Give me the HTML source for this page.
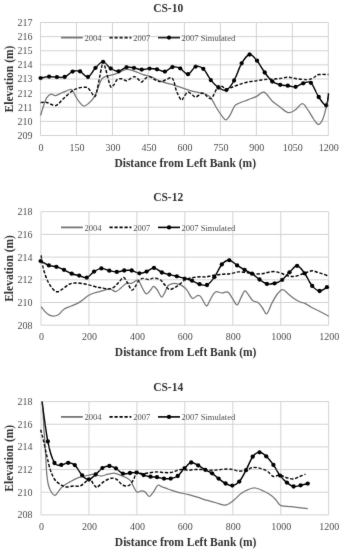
<!DOCTYPE html>
<html><head><meta charset="utf-8"><title>Cross sections</title>
<style>
html,body{margin:0;padding:0;background:#fff;}
body{width:342px;height:550px;overflow:hidden;}
svg{display:block;font-family:"Liberation Serif", "Times New Roman", serif;}
</style></head><body>
<svg width="342" height="550" viewBox="0 0 342 550">
<defs><filter id="soft" filterUnits="userSpaceOnUse" x="0" y="0" width="342" height="550"><feConvolveMatrix order="3" kernelMatrix="0.01 0.06 0.01 0.06 0.72 0.06 0.01 0.06 0.01" edgeMode="duplicate"/></filter></defs>
<rect width="342" height="550" fill="#ffffff"/>
<g filter="url(#soft)">
<defs><clipPath id="c0"><rect x="37.50" y="22.50" width="293.80" height="113.00"/></clipPath></defs>
<path d="M40.50,22.50H328.30 M40.50,36.62H328.30 M40.50,50.75H328.30 M40.50,64.88H328.30 M40.50,79.00H328.30 M40.50,93.12H328.30 M40.50,107.25H328.30 M40.50,121.38H328.30 M40.50,135.50H328.30 M40.50,22.50V135.50 M76.47,22.50V135.50 M112.45,22.50V135.50 M148.43,22.50V135.50 M184.40,22.50V135.50 M220.38,22.50V135.50 M256.35,22.50V135.50 M292.33,22.50V135.50 M328.30,22.50V135.50" stroke="#d2d2d2" stroke-width="1" fill="none"/>
<text x="32.6" y="25.90" text-anchor="end" font-size="10" fill="#4d4d4d">217</text>
<text x="32.6" y="40.02" text-anchor="end" font-size="10" fill="#4d4d4d">216</text>
<text x="32.6" y="54.15" text-anchor="end" font-size="10" fill="#4d4d4d">215</text>
<text x="32.6" y="68.28" text-anchor="end" font-size="10" fill="#4d4d4d">214</text>
<text x="32.6" y="82.40" text-anchor="end" font-size="10" fill="#4d4d4d">213</text>
<text x="32.6" y="96.53" text-anchor="end" font-size="10" fill="#4d4d4d">212</text>
<text x="32.6" y="110.65" text-anchor="end" font-size="10" fill="#4d4d4d">211</text>
<text x="32.6" y="124.78" text-anchor="end" font-size="10" fill="#4d4d4d">210</text>
<text x="32.6" y="138.90" text-anchor="end" font-size="10" fill="#4d4d4d">209</text>
<text x="41.00" y="150.70" text-anchor="middle" font-size="10" fill="#4d4d4d">0</text>
<text x="76.97" y="150.70" text-anchor="middle" font-size="10" fill="#4d4d4d">150</text>
<text x="112.95" y="150.70" text-anchor="middle" font-size="10" fill="#4d4d4d">300</text>
<text x="148.93" y="150.70" text-anchor="middle" font-size="10" fill="#4d4d4d">450</text>
<text x="184.90" y="150.70" text-anchor="middle" font-size="10" fill="#4d4d4d">600</text>
<text x="220.88" y="150.70" text-anchor="middle" font-size="10" fill="#4d4d4d">750</text>
<text x="256.85" y="150.70" text-anchor="middle" font-size="10" fill="#4d4d4d">900</text>
<text x="292.83" y="150.70" text-anchor="middle" font-size="10" fill="#4d4d4d">1050</text>
<text x="328.80" y="150.70" text-anchor="middle" font-size="10" fill="#4d4d4d">1200</text>
<text x="185.20" y="166.50" text-anchor="middle" font-size="11.5" font-weight="bold" fill="#333333">Distance from Left Bank (m)</text>
<text transform="translate(12.9,79.00) rotate(-90)" text-anchor="middle" font-size="11.5" font-weight="bold" fill="#333333">Elevation (m)</text>
<text x="168.2" y="12.00" text-anchor="middle" font-size="11.5" font-weight="bold" fill="#333333">CS-10</text>
<path d="M61,37.60H82.8" stroke="#737373" stroke-width="1.75"/>
<text x="84.6" y="40.80" font-size="8.5" fill="#4d4d4d">2004</text>
<path d="M109.5,37.60H131.4" stroke="#000" stroke-width="1.6" stroke-dasharray="3.2 1.8"/>
<text x="133.3" y="40.80" font-size="8.5" fill="#4d4d4d">2007</text>
<path d="M158,37.60H180" stroke="#000" stroke-width="1.6"/>
<circle cx="169" cy="37.60" r="2.15" fill="#000"/>
<text x="181.6" y="40.80" font-size="8.5" fill="#4d4d4d">2007 Simulated</text>
<g clip-path="url(#c0)" fill="none" stroke-linejoin="round">
<path d="M40.60,115.50 C41.05,114.00 42.27,109.47 43.30,106.50 C44.33,103.53 45.48,99.75 46.80,97.70 C48.12,95.65 49.75,94.55 51.20,94.20 C52.65,93.85 53.60,95.88 55.50,95.60 C57.40,95.32 60.10,93.52 62.60,92.50 C65.10,91.48 68.75,89.65 70.50,89.50 C72.25,89.35 71.93,89.93 73.10,91.60 C74.27,93.27 75.75,97.10 77.50,99.50 C79.25,101.90 81.73,105.38 83.60,106.00 C85.47,106.62 87.07,104.52 88.70,103.20 C90.33,101.88 92.03,100.12 93.40,98.10 C94.77,96.08 95.73,93.83 96.90,91.10 C98.07,88.37 99.33,83.95 100.40,81.70 C101.47,79.45 102.13,78.57 103.30,77.60 C104.47,76.63 105.75,76.38 107.40,75.90 C109.05,75.42 111.25,75.28 113.20,74.70 C115.15,74.12 116.88,73.30 119.10,72.40 C121.32,71.50 123.95,69.52 126.50,69.30 C129.05,69.08 131.63,70.22 134.40,71.10 C137.17,71.98 140.50,73.73 143.10,74.60 C145.70,75.47 147.10,75.20 150.00,76.30 C152.90,77.40 157.00,79.88 160.50,81.20 C164.00,82.52 167.48,83.12 171.00,84.20 C174.52,85.28 178.08,86.53 181.60,87.70 C185.12,88.87 188.60,90.32 192.10,91.20 C195.60,92.08 200.12,92.37 202.60,93.00 C205.08,93.63 205.60,94.20 207.00,95.00 C208.40,95.80 209.45,95.72 211.00,97.80 C212.55,99.88 214.55,104.57 216.30,107.50 C218.05,110.43 219.90,113.35 221.50,115.40 C223.10,117.45 224.43,119.93 225.90,119.80 C227.37,119.67 228.83,116.93 230.30,114.60 C231.77,112.27 233.23,107.70 234.70,105.80 C236.17,103.90 236.90,104.20 239.10,103.20 C241.30,102.20 244.98,100.93 247.90,99.80 C250.82,98.67 253.92,97.67 256.60,96.40 C259.28,95.13 261.38,91.40 264.00,92.20 C266.62,93.00 269.75,98.82 272.30,101.20 C274.85,103.58 276.67,104.60 279.30,106.50 C281.93,108.40 285.47,112.02 288.10,112.60 C290.73,113.18 292.70,111.48 295.10,110.00 C297.50,108.52 300.23,103.50 302.50,103.70 C304.77,103.90 306.80,108.57 308.70,111.20 C310.60,113.83 312.28,117.30 313.90,119.50 C315.52,121.70 316.90,124.50 318.40,124.40 C319.90,124.30 321.57,121.88 322.90,118.90 C324.23,115.92 325.50,110.15 326.40,106.50 C327.30,102.85 327.98,98.58 328.30,97.00" stroke="#737373" stroke-width="1.25"/>
<path d="M40.60,102.50 C41.63,102.50 44.32,101.98 46.80,102.50 C49.28,103.02 52.87,106.10 55.50,105.60 C58.13,105.10 59.97,101.83 62.60,99.50 C65.23,97.17 68.67,93.50 71.30,91.60 C73.93,89.70 76.05,88.83 78.40,88.10 C80.75,87.37 83.68,87.10 85.40,87.20 C87.12,87.30 87.47,87.47 88.70,88.70 C89.93,89.93 91.73,93.32 92.80,94.60 C93.87,95.88 94.42,96.98 95.10,96.40 C95.78,95.82 96.22,93.93 96.90,91.10 C97.58,88.27 98.43,83.30 99.20,79.40 C99.97,75.50 100.85,70.60 101.50,67.70 C102.15,64.80 102.42,61.80 103.10,62.00 C103.78,62.20 104.78,66.20 105.60,68.90 C106.42,71.60 107.12,75.18 108.00,78.20 C108.88,81.22 109.93,85.92 110.90,87.00 C111.87,88.08 112.73,85.97 113.80,84.70 C114.87,83.43 116.03,80.38 117.30,79.40 C118.57,78.42 119.87,78.58 121.40,78.80 C122.93,79.02 125.07,80.68 126.50,80.70 C127.93,80.72 128.68,79.57 130.00,78.90 C131.32,78.23 133.08,76.70 134.40,76.70 C135.72,76.70 136.73,78.00 137.90,78.90 C139.07,79.80 140.23,82.10 141.40,82.10 C142.57,82.10 143.58,79.80 144.90,78.90 C146.22,78.00 147.57,76.55 149.30,76.70 C151.03,76.85 153.43,78.98 155.30,79.80 C157.17,80.62 158.75,81.60 160.50,81.60 C162.25,81.60 164.05,80.45 165.80,79.80 C167.55,79.15 169.68,77.55 171.00,77.70 C172.32,77.85 172.82,78.58 173.70,80.70 C174.58,82.82 175.05,87.18 176.30,90.40 C177.55,93.62 179.88,98.98 181.20,100.00 C182.52,101.02 183.12,97.82 184.20,96.50 C185.28,95.18 186.38,92.40 187.70,92.10 C189.02,91.80 190.72,93.88 192.10,94.70 C193.48,95.52 194.53,97.20 196.00,97.00 C197.47,96.80 199.50,94.03 200.90,93.50 C202.30,92.97 203.30,93.25 204.40,93.80 C205.50,94.35 206.40,96.00 207.50,96.80 C208.60,97.60 209.83,99.18 211.00,98.60 C212.17,98.02 213.33,95.35 214.50,93.30 C215.67,91.25 216.83,87.47 218.00,86.30 C219.17,85.13 220.03,85.85 221.50,86.30 C222.97,86.75 225.05,88.85 226.80,89.00 C228.55,89.15 229.95,87.93 232.00,87.20 C234.05,86.47 236.45,85.48 239.10,84.60 C241.75,83.72 244.98,82.55 247.90,81.90 C250.82,81.25 253.92,81.08 256.60,80.70 C259.28,80.32 261.35,79.87 264.00,79.60 C266.65,79.33 269.83,79.28 272.50,79.10 C275.17,78.92 277.40,78.82 280.00,78.50 C282.60,78.18 285.30,77.15 288.10,77.20 C290.90,77.25 293.58,78.40 296.80,78.80 C300.02,79.20 304.77,79.67 307.40,79.60 C310.03,79.53 311.17,79.00 312.60,78.40 C314.03,77.80 314.93,76.65 316.00,76.00 C317.07,75.35 316.92,74.75 319.00,74.50 C321.08,74.25 326.92,74.50 328.50,74.50" stroke="#000" stroke-width="1.45" stroke-dasharray="3.3 1.7"/>
<path d="M40.60,78.10 C42.02,77.87 46.38,76.85 49.10,76.70 C51.82,76.55 54.30,77.15 56.90,77.20 C59.50,77.25 62.08,77.93 64.70,77.00 C67.32,76.07 70.03,72.53 72.60,71.60 C75.17,70.67 77.53,70.50 80.10,71.40 C82.67,72.30 85.43,77.60 88.00,77.00 C90.57,76.40 92.98,70.32 95.50,67.80 C98.02,65.28 100.55,61.78 103.10,61.90 C105.65,62.02 108.22,66.93 110.80,68.50 C113.38,70.07 115.98,71.52 118.60,71.30 C121.22,71.08 123.93,67.77 126.50,67.20 C129.07,66.63 131.47,67.50 134.00,67.90 C136.53,68.30 139.12,69.48 141.70,69.60 C144.28,69.72 146.95,68.65 149.50,68.60 C152.05,68.55 154.43,68.80 157.00,69.30 C159.57,69.80 162.33,71.98 164.90,71.60 C167.47,71.22 169.85,67.55 172.40,67.00 C174.95,66.45 177.60,67.10 180.20,68.30 C182.80,69.50 185.43,74.48 188.00,74.20 C190.57,73.92 193.05,67.50 195.60,66.60 C198.15,65.70 200.77,66.55 203.30,68.80 C205.83,71.05 208.27,76.98 210.80,80.10 C213.33,83.22 215.90,85.83 218.50,87.50 C221.10,89.17 223.80,91.27 226.40,90.10 C229.00,88.93 231.57,84.95 234.10,80.50 C236.63,76.05 239.02,67.73 241.60,63.40 C244.18,59.07 247.03,54.95 249.60,54.50 C252.17,54.05 254.48,57.70 257.00,60.70 C259.52,63.70 262.15,69.03 264.70,72.50 C267.25,75.97 269.72,79.45 272.30,81.50 C274.88,83.55 277.62,84.10 280.20,84.80 C282.78,85.50 285.23,85.37 287.80,85.70 C290.37,86.03 293.03,87.20 295.60,86.80 C298.17,86.40 300.65,83.97 303.20,83.30 C305.75,82.63 308.32,80.52 310.90,82.80 C313.48,85.08 316.15,93.23 318.70,97.00 C321.25,100.77 324.55,106.07 326.20,105.40 C327.85,104.73 328.20,95.07 328.60,93.00" stroke="#000" stroke-width="1.45"/>
</g>
<g fill="#000">
<circle cx="40.60" cy="78.10" r="2.15"/>
<circle cx="49.10" cy="76.70" r="2.15"/>
<circle cx="56.90" cy="77.20" r="2.15"/>
<circle cx="64.70" cy="77.00" r="2.15"/>
<circle cx="72.60" cy="71.60" r="2.15"/>
<circle cx="80.10" cy="71.40" r="2.15"/>
<circle cx="88.00" cy="77.00" r="2.15"/>
<circle cx="95.50" cy="67.80" r="2.15"/>
<circle cx="103.10" cy="61.90" r="2.15"/>
<circle cx="110.80" cy="68.50" r="2.15"/>
<circle cx="118.60" cy="71.30" r="2.15"/>
<circle cx="126.50" cy="67.20" r="2.15"/>
<circle cx="134.00" cy="67.90" r="2.15"/>
<circle cx="141.70" cy="69.60" r="2.15"/>
<circle cx="149.50" cy="68.60" r="2.15"/>
<circle cx="157.00" cy="69.30" r="2.15"/>
<circle cx="164.90" cy="71.60" r="2.15"/>
<circle cx="172.40" cy="67.00" r="2.15"/>
<circle cx="180.20" cy="68.30" r="2.15"/>
<circle cx="188.00" cy="74.20" r="2.15"/>
<circle cx="195.60" cy="66.60" r="2.15"/>
<circle cx="203.30" cy="68.80" r="2.15"/>
<circle cx="210.80" cy="80.10" r="2.15"/>
<circle cx="218.50" cy="87.50" r="2.15"/>
<circle cx="226.40" cy="90.10" r="2.15"/>
<circle cx="234.10" cy="80.50" r="2.15"/>
<circle cx="241.60" cy="63.40" r="2.15"/>
<circle cx="249.60" cy="54.50" r="2.15"/>
<circle cx="257.00" cy="60.70" r="2.15"/>
<circle cx="264.70" cy="72.50" r="2.15"/>
<circle cx="272.30" cy="81.50" r="2.15"/>
<circle cx="280.20" cy="84.80" r="2.15"/>
<circle cx="287.80" cy="85.70" r="2.15"/>
<circle cx="295.60" cy="86.80" r="2.15"/>
<circle cx="303.20" cy="83.30" r="2.15"/>
<circle cx="310.90" cy="82.80" r="2.15"/>
<circle cx="318.70" cy="97.00" r="2.15"/>
<circle cx="326.20" cy="105.40" r="2.15"/>
</g>
<defs><clipPath id="c1"><rect x="38.00" y="211.70" width="293.70" height="113.50"/></clipPath></defs>
<path d="M41.00,211.70H328.70 M41.00,234.40H328.70 M41.00,257.10H328.70 M41.00,279.80H328.70 M41.00,302.50H328.70 M41.00,325.20H328.70 M41.00,211.70V325.20 M88.95,211.70V325.20 M136.90,211.70V325.20 M184.85,211.70V325.20 M232.80,211.70V325.20 M280.75,211.70V325.20 M328.70,211.70V325.20" stroke="#d2d2d2" stroke-width="1" fill="none"/>
<text x="32.6" y="215.10" text-anchor="end" font-size="10" fill="#4d4d4d">218</text>
<text x="32.6" y="237.80" text-anchor="end" font-size="10" fill="#4d4d4d">216</text>
<text x="32.6" y="260.50" text-anchor="end" font-size="10" fill="#4d4d4d">214</text>
<text x="32.6" y="283.20" text-anchor="end" font-size="10" fill="#4d4d4d">212</text>
<text x="32.6" y="305.90" text-anchor="end" font-size="10" fill="#4d4d4d">210</text>
<text x="32.6" y="328.60" text-anchor="end" font-size="10" fill="#4d4d4d">208</text>
<text x="41.50" y="340.40" text-anchor="middle" font-size="10" fill="#4d4d4d">0</text>
<text x="89.45" y="340.40" text-anchor="middle" font-size="10" fill="#4d4d4d">200</text>
<text x="137.40" y="340.40" text-anchor="middle" font-size="10" fill="#4d4d4d">400</text>
<text x="185.35" y="340.40" text-anchor="middle" font-size="10" fill="#4d4d4d">600</text>
<text x="233.30" y="340.40" text-anchor="middle" font-size="10" fill="#4d4d4d">800</text>
<text x="281.25" y="340.40" text-anchor="middle" font-size="10" fill="#4d4d4d">1000</text>
<text x="329.20" y="340.40" text-anchor="middle" font-size="10" fill="#4d4d4d">1200</text>
<text x="185.65" y="356.20" text-anchor="middle" font-size="11.5" font-weight="bold" fill="#333333">Distance from Left Bank (m)</text>
<text transform="translate(12.9,268.45) rotate(-90)" text-anchor="middle" font-size="11.5" font-weight="bold" fill="#333333">Elevation (m)</text>
<text x="168.2" y="201.20" text-anchor="middle" font-size="11.5" font-weight="bold" fill="#333333">CS-12</text>
<path d="M61,227.40H82.8" stroke="#737373" stroke-width="1.75"/>
<text x="84.6" y="230.60" font-size="8.5" fill="#4d4d4d">2004</text>
<path d="M109.5,227.40H131.4" stroke="#000" stroke-width="1.6" stroke-dasharray="3.2 1.8"/>
<text x="133.3" y="230.60" font-size="8.5" fill="#4d4d4d">2007</text>
<path d="M158,227.40H180" stroke="#000" stroke-width="1.6"/>
<circle cx="169" cy="227.40" r="2.15" fill="#000"/>
<text x="181.6" y="230.60" font-size="8.5" fill="#4d4d4d">2007 Simulated</text>
<g clip-path="url(#c1)" fill="none" stroke-linejoin="round">
<path d="M41.20,306.70 C41.83,307.52 43.63,310.20 45.00,311.60 C46.37,313.00 47.78,314.37 49.40,315.10 C51.02,315.83 53.10,316.15 54.70,316.00 C56.30,315.85 57.40,315.38 59.00,314.20 C60.60,313.02 62.25,310.27 64.30,308.90 C66.35,307.53 68.67,307.17 71.30,306.00 C73.93,304.83 77.32,303.60 80.10,301.90 C82.88,300.20 85.68,297.28 88.00,295.80 C90.32,294.32 91.53,293.85 94.00,293.00 C96.47,292.15 100.17,291.37 102.80,290.70 C105.43,290.03 107.62,288.85 109.80,289.00 C111.98,289.15 114.00,291.82 115.90,291.60 C117.80,291.38 119.43,289.08 121.20,287.70 C122.97,286.32 124.75,284.03 126.50,283.30 C128.25,282.57 129.80,283.82 131.70,283.30 C133.60,282.78 136.15,279.47 137.90,280.20 C139.65,280.93 140.82,285.43 142.20,287.70 C143.58,289.97 144.73,293.50 146.20,293.80 C147.67,294.10 149.80,290.73 151.00,289.50 C152.20,288.27 152.40,286.40 153.40,286.40 C154.40,286.40 155.63,287.73 157.00,289.50 C158.37,291.27 160.27,296.57 161.60,297.00 C162.93,297.43 163.97,293.93 165.00,292.10 C166.03,290.27 166.72,287.38 167.80,286.00 C168.88,284.62 170.08,284.20 171.50,283.80 C172.92,283.40 174.62,283.33 176.30,283.60 C177.98,283.87 179.85,284.35 181.60,285.40 C183.35,286.45 185.02,287.77 186.80,289.90 C188.58,292.03 190.53,297.25 192.30,298.20 C194.07,299.15 195.97,295.83 197.40,295.60 C198.83,295.37 199.42,295.10 200.90,296.80 C202.38,298.50 204.82,305.17 206.30,305.80 C207.78,306.43 208.62,302.53 209.80,300.60 C210.98,298.67 212.28,295.70 213.40,294.20 C214.52,292.70 215.10,291.80 216.50,291.60 C217.90,291.40 219.90,292.92 221.80,293.00 C223.70,293.08 226.15,291.23 227.90,292.10 C229.65,292.97 230.77,296.07 232.30,298.20 C233.83,300.33 235.63,305.03 237.10,304.90 C238.57,304.77 239.80,299.73 241.10,297.40 C242.40,295.07 243.58,291.20 244.90,290.90 C246.22,290.60 247.68,293.97 249.00,295.60 C250.32,297.23 251.28,299.55 252.80,300.70 C254.32,301.85 256.48,301.28 258.10,302.50 C259.72,303.72 261.05,306.13 262.50,308.00 C263.95,309.87 265.20,314.57 266.80,313.70 C268.40,312.83 270.33,306.08 272.10,302.80 C273.87,299.52 275.65,296.20 277.40,294.00 C279.15,291.80 280.78,289.62 282.60,289.60 C284.42,289.58 286.47,292.47 288.30,293.90 C290.13,295.33 291.70,296.88 293.60,298.20 C295.50,299.52 297.80,300.93 299.70,301.80 C301.60,302.67 303.08,302.50 305.00,303.40 C306.92,304.30 308.87,305.93 311.20,307.20 C313.53,308.47 316.08,309.52 319.00,311.00 C321.92,312.48 327.08,315.25 328.70,316.10" stroke="#737373" stroke-width="1.25"/>
<path d="M41.20,255.40 C41.40,256.93 41.77,261.47 42.40,264.60 C43.03,267.73 43.98,271.22 45.00,274.20 C46.02,277.18 47.18,280.03 48.50,282.50 C49.82,284.97 51.43,287.45 52.90,289.00 C54.37,290.55 55.68,291.80 57.30,291.80 C58.92,291.80 60.70,290.22 62.60,289.00 C64.50,287.78 66.67,285.50 68.70,284.50 C70.73,283.50 72.32,283.13 74.80,283.00 C77.28,282.87 80.97,283.30 83.60,283.70 C86.23,284.10 88.20,284.78 90.60,285.40 C93.00,286.02 96.27,287.02 98.00,287.40 C99.73,287.78 99.33,287.43 101.00,287.70 C102.67,287.97 105.95,289.00 108.00,289.00 C110.05,289.00 111.53,288.78 113.30,287.70 C115.07,286.62 116.90,284.20 118.60,282.50 C120.30,280.80 122.05,277.50 123.50,277.50 C124.95,277.50 125.93,280.42 127.30,282.50 C128.67,284.58 130.38,289.28 131.70,290.00 C133.02,290.72 134.03,288.35 135.20,286.80 C136.37,285.25 137.38,282.10 138.70,280.70 C140.02,279.30 141.48,278.60 143.10,278.40 C144.72,278.20 146.58,279.55 148.40,279.50 C150.22,279.45 151.98,278.05 154.00,278.10 C156.02,278.15 158.68,278.63 160.50,279.80 C162.32,280.97 163.43,283.48 164.90,285.10 C166.37,286.72 167.68,289.07 169.30,289.50 C170.92,289.93 172.85,288.58 174.60,287.70 C176.35,286.82 178.05,285.52 179.80,284.20 C181.55,282.88 183.05,280.88 185.10,279.80 C187.15,278.72 189.47,278.22 192.10,277.70 C194.73,277.18 198.58,276.82 200.90,276.70 C203.22,276.58 203.98,277.22 206.00,277.00 C208.02,276.78 210.08,275.87 213.00,275.40 C215.92,274.93 220.57,274.48 223.50,274.20 C226.43,273.92 228.10,274.08 230.60,273.70 C233.10,273.32 235.87,272.10 238.50,271.90 C241.13,271.70 243.92,272.15 246.40,272.50 C248.88,272.85 250.80,273.80 253.40,274.00 C256.00,274.20 259.68,273.95 262.00,273.70 C264.32,273.45 265.25,272.85 267.30,272.50 C269.35,272.15 271.97,271.47 274.30,271.60 C276.63,271.73 278.97,272.57 281.30,273.30 C283.63,274.03 285.97,275.50 288.30,276.00 C290.63,276.50 292.53,276.80 295.30,276.30 C298.07,275.80 302.12,273.92 304.90,273.00 C307.68,272.08 309.87,270.90 312.00,270.80 C314.13,270.70 315.88,271.87 317.70,272.40 C319.52,272.93 321.07,273.37 322.90,274.00 C324.73,274.63 327.73,275.83 328.70,276.20" stroke="#000" stroke-width="1.45" stroke-dasharray="3.3 1.7"/>
<path d="M40.60,261.10 C41.98,261.82 46.27,264.45 48.90,265.40 C51.53,266.35 53.88,266.07 56.40,266.80 C58.92,267.53 61.45,268.65 64.00,269.80 C66.55,270.95 69.17,272.73 71.70,273.70 C74.23,274.67 76.68,274.93 79.20,275.60 C81.72,276.27 84.32,278.37 86.80,277.70 C89.28,277.03 91.67,273.15 94.10,271.60 C96.53,270.05 98.87,268.55 101.40,268.40 C103.93,268.25 106.73,270.12 109.30,270.70 C111.87,271.28 114.32,271.93 116.80,271.90 C119.28,271.87 121.72,270.73 124.20,270.50 C126.68,270.27 129.18,270.03 131.70,270.50 C134.22,270.97 136.82,273.12 139.30,273.30 C141.78,273.48 144.15,272.50 146.60,271.60 C149.05,270.70 151.45,267.75 154.00,267.90 C156.55,268.05 159.35,271.38 161.90,272.50 C164.45,273.62 166.82,273.97 169.30,274.60 C171.78,275.23 174.25,275.63 176.80,276.30 C179.35,276.97 182.05,277.87 184.60,278.60 C187.15,279.33 189.60,279.77 192.10,280.70 C194.60,281.63 197.12,283.48 199.60,284.20 C202.08,284.92 204.53,286.17 207.00,285.00 C209.47,283.83 211.93,280.63 214.40,277.20 C216.87,273.77 219.32,267.23 221.80,264.40 C224.28,261.57 226.75,260.03 229.30,260.20 C231.85,260.37 234.55,263.80 237.10,265.40 C239.65,267.00 242.12,268.42 244.60,269.80 C247.08,271.18 249.52,272.08 252.00,273.70 C254.48,275.32 257.02,277.80 259.50,279.50 C261.98,281.20 264.38,283.27 266.90,283.90 C269.42,284.53 272.05,283.98 274.60,283.30 C277.15,282.62 279.72,281.63 282.20,279.80 C284.68,277.97 287.02,274.63 289.50,272.30 C291.98,269.97 294.58,265.63 297.10,265.80 C299.62,265.97 302.08,269.95 304.60,273.30 C307.12,276.65 309.70,282.95 312.20,285.90 C314.70,288.85 317.13,290.78 319.60,291.00 C322.07,291.22 325.77,287.83 327.00,287.20" stroke="#000" stroke-width="1.45"/>
</g>
<g fill="#000">
<circle cx="40.60" cy="261.10" r="2.15"/>
<circle cx="48.90" cy="265.40" r="2.15"/>
<circle cx="56.40" cy="266.80" r="2.15"/>
<circle cx="64.00" cy="269.80" r="2.15"/>
<circle cx="71.70" cy="273.70" r="2.15"/>
<circle cx="79.20" cy="275.60" r="2.15"/>
<circle cx="86.80" cy="277.70" r="2.15"/>
<circle cx="94.10" cy="271.60" r="2.15"/>
<circle cx="101.40" cy="268.40" r="2.15"/>
<circle cx="109.30" cy="270.70" r="2.15"/>
<circle cx="116.80" cy="271.90" r="2.15"/>
<circle cx="124.20" cy="270.50" r="2.15"/>
<circle cx="131.70" cy="270.50" r="2.15"/>
<circle cx="139.30" cy="273.30" r="2.15"/>
<circle cx="146.60" cy="271.60" r="2.15"/>
<circle cx="154.00" cy="267.90" r="2.15"/>
<circle cx="161.90" cy="272.50" r="2.15"/>
<circle cx="169.30" cy="274.60" r="2.15"/>
<circle cx="176.80" cy="276.30" r="2.15"/>
<circle cx="184.60" cy="278.60" r="2.15"/>
<circle cx="192.10" cy="280.70" r="2.15"/>
<circle cx="199.60" cy="284.20" r="2.15"/>
<circle cx="207.00" cy="285.00" r="2.15"/>
<circle cx="214.40" cy="277.20" r="2.15"/>
<circle cx="221.80" cy="264.40" r="2.15"/>
<circle cx="229.30" cy="260.20" r="2.15"/>
<circle cx="237.10" cy="265.40" r="2.15"/>
<circle cx="244.60" cy="269.80" r="2.15"/>
<circle cx="252.00" cy="273.70" r="2.15"/>
<circle cx="259.50" cy="279.50" r="2.15"/>
<circle cx="266.90" cy="283.90" r="2.15"/>
<circle cx="274.60" cy="283.30" r="2.15"/>
<circle cx="282.20" cy="279.80" r="2.15"/>
<circle cx="289.50" cy="272.30" r="2.15"/>
<circle cx="297.10" cy="265.80" r="2.15"/>
<circle cx="304.60" cy="273.30" r="2.15"/>
<circle cx="312.20" cy="285.90" r="2.15"/>
<circle cx="319.60" cy="291.00" r="2.15"/>
<circle cx="327.00" cy="287.20" r="2.15"/>
</g>
<defs><clipPath id="c2"><rect x="38.00" y="401.60" width="293.70" height="113.30"/></clipPath></defs>
<path d="M41.00,401.60H328.70 M41.00,424.26H328.70 M41.00,446.92H328.70 M41.00,469.58H328.70 M41.00,492.24H328.70 M41.00,514.90H328.70 M41.00,401.60V514.90 M88.95,401.60V514.90 M136.90,401.60V514.90 M184.85,401.60V514.90 M232.80,401.60V514.90 M280.75,401.60V514.90 M328.70,401.60V514.90" stroke="#d2d2d2" stroke-width="1" fill="none"/>
<text x="32.6" y="405.00" text-anchor="end" font-size="10" fill="#4d4d4d">218</text>
<text x="32.6" y="427.66" text-anchor="end" font-size="10" fill="#4d4d4d">216</text>
<text x="32.6" y="450.32" text-anchor="end" font-size="10" fill="#4d4d4d">214</text>
<text x="32.6" y="472.98" text-anchor="end" font-size="10" fill="#4d4d4d">212</text>
<text x="32.6" y="495.64" text-anchor="end" font-size="10" fill="#4d4d4d">210</text>
<text x="32.6" y="518.30" text-anchor="end" font-size="10" fill="#4d4d4d">208</text>
<text x="41.50" y="530.10" text-anchor="middle" font-size="10" fill="#4d4d4d">0</text>
<text x="89.45" y="530.10" text-anchor="middle" font-size="10" fill="#4d4d4d">200</text>
<text x="137.40" y="530.10" text-anchor="middle" font-size="10" fill="#4d4d4d">400</text>
<text x="185.35" y="530.10" text-anchor="middle" font-size="10" fill="#4d4d4d">600</text>
<text x="233.30" y="530.10" text-anchor="middle" font-size="10" fill="#4d4d4d">800</text>
<text x="281.25" y="530.10" text-anchor="middle" font-size="10" fill="#4d4d4d">1000</text>
<text x="329.20" y="530.10" text-anchor="middle" font-size="10" fill="#4d4d4d">1200</text>
<text x="185.65" y="545.90" text-anchor="middle" font-size="11.5" font-weight="bold" fill="#333333">Distance from Left Bank (m)</text>
<text transform="translate(12.9,458.25) rotate(-90)" text-anchor="middle" font-size="11.5" font-weight="bold" fill="#333333">Elevation (m)</text>
<text x="168.2" y="391.10" text-anchor="middle" font-size="11.5" font-weight="bold" fill="#333333">CS-14</text>
<path d="M61,416.90H82.8" stroke="#737373" stroke-width="1.75"/>
<text x="84.6" y="420.10" font-size="8.5" fill="#4d4d4d">2004</text>
<path d="M109.5,416.90H131.4" stroke="#000" stroke-width="1.6" stroke-dasharray="3.2 1.8"/>
<text x="133.3" y="420.10" font-size="8.5" fill="#4d4d4d">2007</text>
<path d="M158,416.90H180" stroke="#000" stroke-width="1.6"/>
<circle cx="169" cy="416.90" r="2.15" fill="#000"/>
<text x="181.6" y="420.10" font-size="8.5" fill="#4d4d4d">2007 Simulated</text>
<g clip-path="url(#c2)" fill="none" stroke-linejoin="round">
<path d="M41.20,385.00 C41.43,388.33 42.13,397.50 42.60,405.00 C43.07,412.50 43.50,421.83 44.00,430.00 C44.50,438.17 45.17,447.00 45.60,454.00 C46.03,461.00 46.17,467.00 46.60,472.00 C47.03,477.00 47.47,480.75 48.20,484.00 C48.93,487.25 49.90,489.62 51.00,491.50 C52.10,493.38 53.60,495.25 54.80,495.30 C56.00,495.35 56.90,493.27 58.20,491.80 C59.50,490.33 60.70,488.12 62.60,486.50 C64.50,484.88 66.97,483.57 69.60,482.10 C72.23,480.63 75.18,478.87 78.40,477.70 C81.62,476.53 86.30,475.68 88.90,475.10 C91.50,474.52 91.98,474.05 94.00,474.20 C96.02,474.35 98.67,476.00 101.00,476.00 C103.33,476.00 105.67,474.65 108.00,474.20 C110.33,473.75 112.65,473.00 115.00,473.30 C117.35,473.60 120.05,475.18 122.10,476.00 C124.15,476.82 125.85,477.33 127.30,478.20 C128.75,479.07 129.77,479.82 130.80,481.20 C131.83,482.58 132.47,484.68 133.50,486.50 C134.53,488.32 135.68,491.37 137.00,492.10 C138.32,492.83 140.08,490.95 141.40,490.90 C142.72,490.85 143.58,490.87 144.90,491.80 C146.22,492.73 147.87,496.50 149.30,496.50 C150.73,496.50 152.07,493.67 153.50,491.80 C154.93,489.93 156.43,486.10 157.90,485.30 C159.37,484.50 160.40,486.30 162.30,487.00 C164.20,487.70 166.67,488.62 169.30,489.50 C171.93,490.38 174.85,491.45 178.10,492.30 C181.35,493.15 185.57,493.78 188.80,494.60 C192.03,495.42 194.58,496.27 197.50,497.20 C200.42,498.13 203.37,499.32 206.30,500.20 C209.23,501.08 212.47,501.77 215.10,502.50 C217.73,503.23 220.35,504.17 222.10,504.60 C223.85,505.03 224.13,505.45 225.60,505.10 C227.07,504.75 229.15,503.67 230.90,502.50 C232.65,501.33 234.40,499.60 236.10,498.10 C237.80,496.60 239.10,494.92 241.10,493.50 C243.10,492.08 245.75,490.52 248.10,489.60 C250.45,488.68 252.65,487.77 255.20,488.00 C257.75,488.23 260.67,489.72 263.40,491.00 C266.13,492.28 269.45,494.13 271.60,495.70 C273.75,497.27 274.73,498.75 276.30,500.40 C277.87,502.05 278.47,504.55 281.00,505.60 C283.53,506.65 287.03,506.20 291.50,506.70 C295.97,507.20 305.08,508.28 307.80,508.60" stroke="#737373" stroke-width="1.25"/>
<path d="M40.70,429.80 C41.13,431.50 42.28,435.67 43.30,440.00 C44.32,444.33 45.63,450.83 46.80,455.80 C47.97,460.77 48.98,465.85 50.30,469.80 C51.62,473.75 52.95,477.02 54.70,479.50 C56.45,481.98 58.77,483.45 60.80,484.70 C62.83,485.95 64.85,486.78 66.90,487.00 C68.95,487.22 70.90,486.17 73.10,486.00 C75.30,485.83 78.05,486.65 80.10,486.00 C82.15,485.35 83.78,483.33 85.40,482.10 C87.02,480.87 88.48,478.30 89.80,478.60 C91.12,478.90 92.28,482.50 93.30,483.90 C94.32,485.30 95.20,486.48 95.90,487.00 C96.60,487.52 96.07,487.97 97.50,487.00 C98.93,486.03 102.17,482.67 104.50,481.20 C106.83,479.73 109.45,478.48 111.50,478.20 C113.55,477.92 115.18,478.55 116.80,479.50 C118.42,480.45 119.73,482.82 121.20,483.90 C122.67,484.98 124.13,485.87 125.60,486.00 C127.07,486.13 128.68,485.78 130.00,484.70 C131.32,483.62 132.33,481.53 133.50,479.50 C134.67,477.47 135.55,473.47 137.00,472.50 C138.45,471.53 140.30,473.62 142.20,473.70 C144.10,473.78 145.93,473.30 148.40,473.00 C150.87,472.70 154.40,471.98 157.00,471.90 C159.60,471.82 161.72,472.40 164.00,472.50 C166.28,472.60 168.65,472.80 170.70,472.50 C172.75,472.20 174.48,471.20 176.30,470.70 C178.12,470.20 179.55,469.58 181.60,469.50 C183.65,469.42 186.27,470.20 188.60,470.20 C190.93,470.20 193.27,469.62 195.60,469.50 C197.93,469.38 199.70,469.37 202.60,469.50 C205.50,469.63 209.80,470.32 213.00,470.30 C216.20,470.28 218.87,469.58 221.80,469.40 C224.73,469.22 227.68,468.93 230.60,469.20 C233.52,469.47 236.67,470.90 239.30,471.00 C241.93,471.10 244.05,470.38 246.40,469.80 C248.75,469.22 251.07,467.73 253.40,467.50 C255.73,467.27 258.08,467.78 260.40,468.40 C262.72,469.02 265.13,469.85 267.30,471.20 C269.47,472.55 271.37,475.85 273.40,476.50 C275.43,477.15 277.30,474.90 279.50,475.10 C281.70,475.30 284.25,477.05 286.60,477.70 C288.95,478.35 291.42,479.20 293.60,479.00 C295.78,478.80 297.72,477.30 299.70,476.50 C301.68,475.70 304.53,474.58 305.50,474.20" stroke="#000" stroke-width="1.45" stroke-dasharray="3.3 1.7"/>
<path d="M41.00,394.00 C42.13,401.90 45.55,429.90 47.80,441.40 C50.05,452.90 52.25,459.08 54.50,463.00 C56.75,466.92 59.02,464.93 61.30,464.90 C63.58,464.87 65.95,462.77 68.20,462.80 C70.45,462.83 72.47,463.00 74.80,465.10 C77.13,467.20 79.85,473.00 82.20,475.40 C84.55,477.80 86.67,479.65 88.90,479.50 C91.13,479.35 93.35,476.40 95.60,474.50 C97.85,472.60 100.10,469.52 102.40,468.10 C104.70,466.68 107.15,465.95 109.40,466.00 C111.65,466.05 113.65,467.12 115.90,468.40 C118.15,469.68 120.55,472.93 122.90,473.70 C125.25,474.47 127.72,473.20 130.00,473.00 C132.28,472.80 134.33,472.15 136.60,472.50 C138.87,472.85 141.28,474.40 143.60,475.10 C145.92,475.80 148.27,476.35 150.50,476.70 C152.73,477.05 154.75,476.88 157.00,477.20 C159.25,477.52 161.72,478.37 164.00,478.60 C166.28,478.83 168.42,479.03 170.70,478.60 C172.98,478.17 175.38,477.75 177.70,476.00 C180.02,474.25 182.35,470.35 184.60,468.10 C186.85,465.85 188.93,462.95 191.20,462.50 C193.47,462.05 195.85,464.18 198.20,465.40 C200.55,466.62 202.98,468.48 205.30,469.80 C207.62,471.12 209.88,471.83 212.10,473.30 C214.32,474.77 216.35,476.90 218.60,478.60 C220.85,480.30 223.32,482.33 225.60,483.50 C227.88,484.67 230.02,485.92 232.30,485.60 C234.58,485.28 237.02,484.17 239.30,481.60 C241.58,479.03 243.77,474.35 246.00,470.20 C248.23,466.05 250.45,459.68 252.70,456.70 C254.95,453.72 257.25,452.37 259.50,452.30 C261.75,452.23 263.88,454.20 266.20,456.30 C268.52,458.40 271.08,461.68 273.40,464.90 C275.72,468.12 277.85,472.65 280.10,475.60 C282.35,478.55 284.65,480.78 286.90,482.60 C289.15,484.42 291.32,486.05 293.60,486.50 C295.88,486.95 298.25,485.78 300.60,485.30 C302.95,484.82 306.52,483.88 307.70,483.60" stroke="#000" stroke-width="1.45"/>
</g>
<g fill="#000">
<circle cx="47.80" cy="441.40" r="2.15"/>
<circle cx="54.50" cy="463.00" r="2.15"/>
<circle cx="61.30" cy="464.90" r="2.15"/>
<circle cx="68.20" cy="462.80" r="2.15"/>
<circle cx="74.80" cy="465.10" r="2.15"/>
<circle cx="82.20" cy="475.40" r="2.15"/>
<circle cx="88.90" cy="479.50" r="2.15"/>
<circle cx="95.60" cy="474.50" r="2.15"/>
<circle cx="102.40" cy="468.10" r="2.15"/>
<circle cx="109.40" cy="466.00" r="2.15"/>
<circle cx="115.90" cy="468.40" r="2.15"/>
<circle cx="122.90" cy="473.70" r="2.15"/>
<circle cx="130.00" cy="473.00" r="2.15"/>
<circle cx="136.60" cy="472.50" r="2.15"/>
<circle cx="143.60" cy="475.10" r="2.15"/>
<circle cx="150.50" cy="476.70" r="2.15"/>
<circle cx="157.00" cy="477.20" r="2.15"/>
<circle cx="164.00" cy="478.60" r="2.15"/>
<circle cx="170.70" cy="478.60" r="2.15"/>
<circle cx="177.70" cy="476.00" r="2.15"/>
<circle cx="184.60" cy="468.10" r="2.15"/>
<circle cx="191.20" cy="462.50" r="2.15"/>
<circle cx="198.20" cy="465.40" r="2.15"/>
<circle cx="205.30" cy="469.80" r="2.15"/>
<circle cx="212.10" cy="473.30" r="2.15"/>
<circle cx="218.60" cy="478.60" r="2.15"/>
<circle cx="225.60" cy="483.50" r="2.15"/>
<circle cx="232.30" cy="485.60" r="2.15"/>
<circle cx="239.30" cy="481.60" r="2.15"/>
<circle cx="246.00" cy="470.20" r="2.15"/>
<circle cx="252.70" cy="456.70" r="2.15"/>
<circle cx="259.50" cy="452.30" r="2.15"/>
<circle cx="266.20" cy="456.30" r="2.15"/>
<circle cx="273.40" cy="464.90" r="2.15"/>
<circle cx="280.10" cy="475.60" r="2.15"/>
<circle cx="286.90" cy="482.60" r="2.15"/>
<circle cx="293.60" cy="486.50" r="2.15"/>
<circle cx="300.60" cy="485.30" r="2.15"/>
<circle cx="307.70" cy="483.60" r="2.15"/>
</g>
</g>
</svg>
</body></html>
